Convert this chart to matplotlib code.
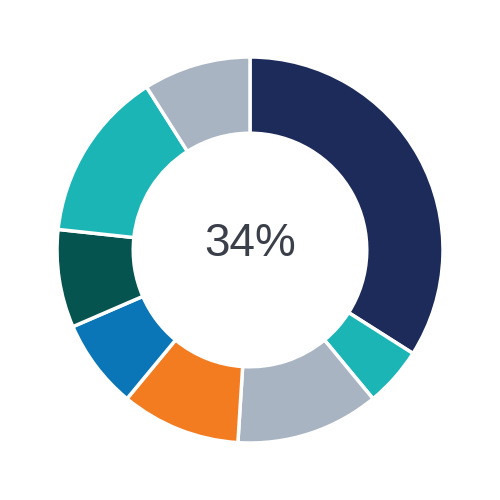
import matplotlib
matplotlib.use("Agg")
import matplotlib.pyplot as plt

# Shares, clockwise from the top
shares = [34, 5, 12, 10, 7.5, 8.2, 14.3, 9]
colors = ["#1c2b5a", "#1cb5b5", "#a9b4c2", "#f47c20",
          "#0a76b7", "#065450", "#1cb5b5", "#a9b4c2"]
center_label = "34%"

fig = plt.figure(figsize=(5, 5), dpi=100)
ax = fig.add_axes([0, 0, 1, 1])

ax.pie(shares, colors=colors, startangle=90, counterclock=False,
       radius=1.0,
       wedgeprops=dict(width=0.395, edgecolor="white", linewidth=2.5))

ax.text(0, 0.03, center_label, ha="center", va="center",
        fontsize=33, color="#3a3f4a", family="Liberation Sans")

lim = 250 / 193
ax.set_xlim(-lim, lim)
ax.set_ylim(-lim, lim)
ax.set_aspect("equal")
ax.axis("off")

fig.savefig("out.png", dpi=100, facecolor="white")
